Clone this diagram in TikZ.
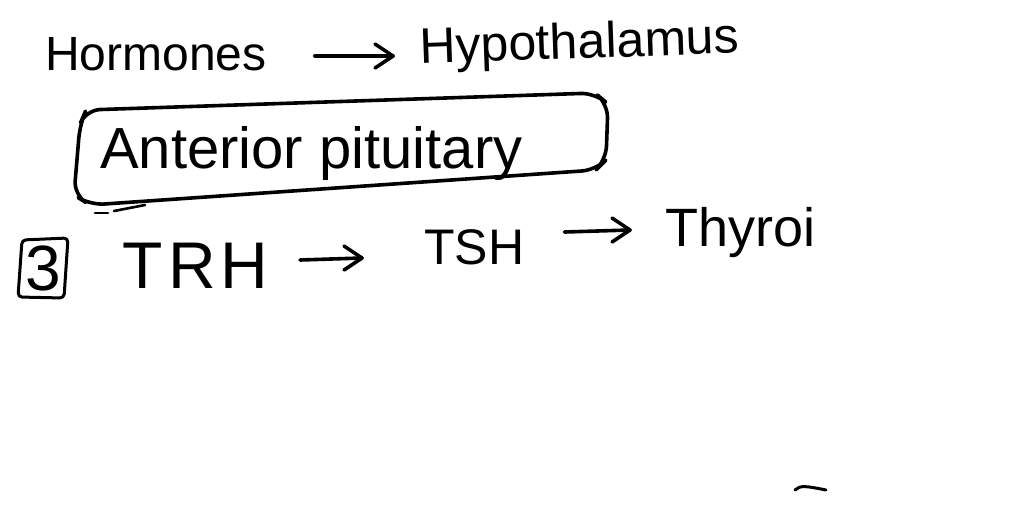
\documentclass[tikz,border=0pt]{standalone}
\usepackage{fontspec}
\setmainfont{Liberation Sans}
\usetikzlibrary{calc}
\tikzset{
  ink/.style={line width=3.6pt, line cap=round, line join=round, black},
  hand/.style={inner sep=0pt, anchor=base west}
}
\newcommand{\handhead}[1]{\draw[ink] ($(#1)+(-18,-12)$) -- (#1) -- ($(#1)+(-18,12)$);}
\begin{document}
\begin{tikzpicture}[x=1pt,y=-1pt]
\useasboundingbox[fill=white] (0,0) rectangle (1024,512);
% top row
\node[hand, font=\fontsize{48}{50}\selectfont] (hormones) at (45,70) {Hormones};
\node[hand, font=\fontsize{50}{52}\selectfont, rotate=2] (hypo) at (420,64) {Hypothalamus};
\coordinate (a1s) at ($(hormones.base east)+(48,-14)$);
\coordinate (a1e) at ($(hypo.base west)+(-27,-8)$);
\draw[ink] (a1s) -- (a1e);
\handhead{a1e}
% boxed anterior pituitary
\node[hand, font=\fontsize{58}{60}\selectfont] (ant) at (100,168) {Anterior pituitary};
\draw[ink, rounded corners=14pt] (86,110) -- (595,93) -- (608,104) -- (606,160) -- (596,170) -- (90,205) -- (74,195) -- (80,124) -- cycle;
\draw[ink, line width=2.6pt] (95,213) -- (108,213);
\draw[ink, line width=2.6pt] (114,211) -- (145,205);
% bottom row
\node[hand, font=\fontsize{64}{66}\selectfont] (three) at (25,290) {3};
\draw[ink, rounded corners=4pt, line width=3pt] (22,240) -- (68,238) -- (64,298) -- (18,297) -- cycle;
\node[hand, font=\fontsize{66}{68}\selectfont] (trh) at (122,288) {T\kern 6pt R\kern 4pt H};
\node[hand, font=\fontsize{50}{52}\selectfont] (tsh) at (424,264) {TSH};
\node[hand, font=\fontsize{54}{56}\selectfont] (thyroi) at (665,246) {Thyroi};
\coordinate (a2s) at ($(trh.base east)+(32,-28)$);
\coordinate (a2e) at ($(tsh.base west)+(-62,-6)$);
\draw[ink] (a2s) -- (a2e);
\handhead{a2e}
\coordinate (a3s) at ($(tsh.base east)+(40,-32)$);
\coordinate (a3e) at ($(thyroi.base west)+(-35,-16)$);
\draw[ink] (a3s) -- (a3e);
\handhead{a3e}
% stray mark
\draw[ink, line width=3pt] (795,490) .. controls (800,485) and (806,486) .. (826,490);
\end{tikzpicture}
\end{document}
